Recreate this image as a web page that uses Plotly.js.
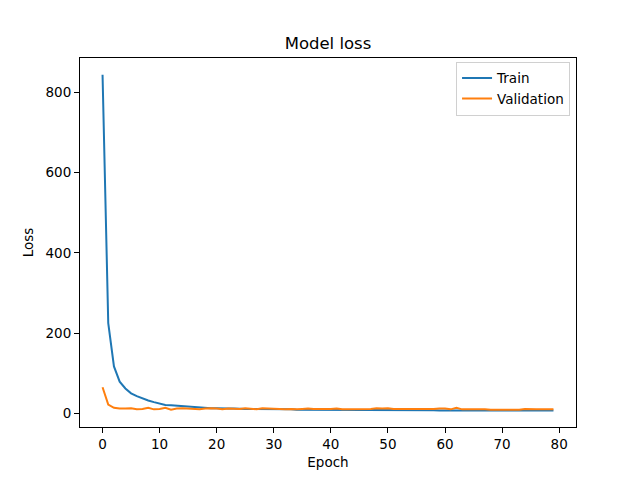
<!DOCTYPE html>
<html>
<head>
<meta charset="utf-8">
<script src="https://cdn.plot.ly/plotly-3.0.1.min.js"></script>
<style>html,body{margin:0;padding:0;background:#fff;}#chart{width:640px;height:480px;}</style>
</head>
<body>
<div id="chart"></div>
<script>
// loss per epoch
let epochs = [];
for (let i = 0; i < 80; i++) epochs.push(i);

let trainLoss = [844, 225, 117, 79, 62, 50, 43, 37, 32, 28,
  24, 21, 20, 19, 17, 16, 15, 14, 14, 13,
  13, 12, 12, 12, 11, 11, 11, 11, 10, 10,
  10, 10, 10, 10, 9, 9, 9, 9, 9, 9,
  9, 9, 9, 8, 8, 8, 8, 8, 8, 8,
  8, 8, 8, 8, 8, 8, 8, 8, 8, 7,
  7, 7, 7, 7, 7, 7, 7, 7, 7, 7,
  7, 7, 7, 7, 7, 7, 7, 7, 7, 7];

let valLoss = [65, 22, 14, 12, 12, 13, 10, 11, 14, 10,
  11, 14, 9, 12, 13, 12, 12, 10, 12, 13,
  12, 10, 12, 11, 11, 13, 12, 10, 13, 12,
  11, 11, 10, 11, 10, 11, 12, 11, 11, 10,
  11, 12, 10, 10, 10, 10, 11, 11, 13, 12,
  13, 11, 11, 11, 10, 10, 11, 11, 11, 12,
  12, 10, 14, 10, 10, 11, 11, 10, 9, 9,
  9, 10, 10, 9, 11, 10, 10, 10, 10, 10];

let xTicks = [0, 10, 20, 30, 40, 50, 60, 70, 80];
let yTicks = [0, 200, 400, 600, 800];

let font = "DejaVu Sans, sans-serif";

let traces = [
  {x: epochs, y: trainLoss, name: "Train", type: "scatter", mode: "lines", line: {color: "#1f77b4", width: 2}},
  {x: epochs, y: valLoss, name: "Validation", type: "scatter", mode: "lines", line: {color: "#ff7f0e", width: 2}}
];

let axisBase = {
  showline: true, mirror: true, linecolor: "#000", linewidth: 1,
  showgrid: false, zeroline: false,
  ticks: "outside", ticklen: 5, tickwidth: 1, tickcolor: "#000",
  tickfont: {family: font, size: 13.5, color: "#000"}
};

let layout = {
  width: 640, height: 480,
  margin: {l: 80, r: 64, t: 58, b: 53},
  paper_bgcolor: "#fff", plot_bgcolor: "#fff",
  font: {family: font, color: "#000"},
  title: {text: "Model loss", font: {family: font, size: 16.5, color: "#000"}, x: 0.5125, xanchor: "center", y: 0.91, yanchor: "middle"},
  xaxis: Object.assign({}, axisBase, {
    range: [-3.95, 82.95], tickvals: xTicks, ticktext: xTicks.map(String),
    title: {text: "Epoch", font: {family: font, size: 13.5}, standoff: 6}
  }),
  yaxis: Object.assign({}, axisBase, {
    range: [-34, 886], tickvals: yTicks, ticktext: yTicks.map(String),
    title: {text: "Loss", font: {family: font, size: 13.5}, standoff: 8}
  }),
  legend: {
    x: 0.988, xanchor: "right", y: 0.99, yanchor: "top",
    bordercolor: "#d0d0d0", borderwidth: 1, bgcolor: "rgba(255,255,255,0.8)",
    font: {family: font, size: 13.5, color: "#000"}, tracegroupgap: 0
  },
  showlegend: true
};

Plotly.newPlot("chart", traces, layout, {staticPlot: true});
</script>
</body>
</html>
